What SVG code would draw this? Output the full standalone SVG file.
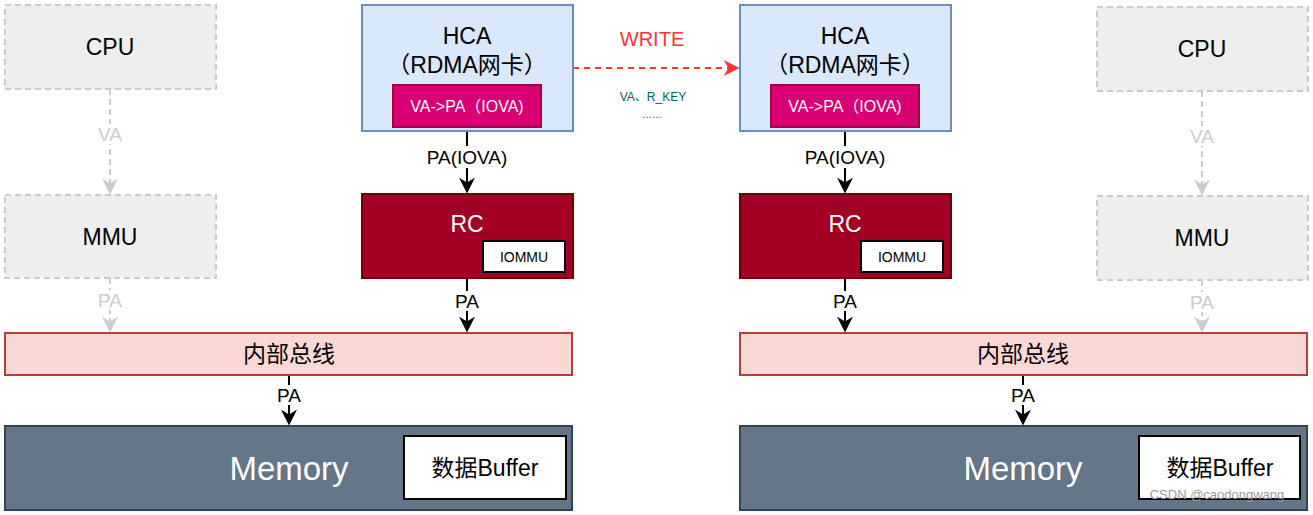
<svg xmlns="http://www.w3.org/2000/svg" width="1313" height="515" viewBox="0 0 1313 515">
<style>
text{font-family:"Liberation Sans","Noto Sans CJK SC",sans-serif;text-anchor:middle;dominant-baseline:central}
.gray{fill:#eeeeee;stroke:#cccccc;stroke-width:2;stroke-dasharray:6 4}
.hca{fill:#dae8fc;stroke:#6c8ebf;stroke-width:2}
.va{fill:#d80073;stroke:#a50040;stroke-width:2}
.rc{fill:#a20025;stroke:#6f0000;stroke-width:2}
.white{fill:#ffffff;stroke:#000000;stroke-width:2}
.bus{fill:#fad9d5;stroke:#ae4132;stroke-width:2}
.mem{fill:#647687;stroke:#314354;stroke-width:2}
.c{stroke:#000;stroke-width:2;fill:none}
.cg{stroke:#cccccc;stroke-width:2;fill:none;stroke-dasharray:6 4}
.lbl{font-size:19px;fill:#000}
.lg{font-size:19px;fill:#cccccc}
</style>
<defs>
<marker id="ab" viewBox="0 0 10 10" refX="9" refY="5" markerWidth="16" markerHeight="16" markerUnits="userSpaceOnUse" orient="auto"><path d="M0,0 L10,5 L0,10 L3,5z" fill="#000"/></marker>
<marker id="ag" viewBox="0 0 10 10" refX="9" refY="5" markerWidth="16" markerHeight="16" markerUnits="userSpaceOnUse" orient="auto"><path d="M0,0 L10,5 L0,10 L3,5z" fill="#cccccc"/></marker>
<marker id="ar" viewBox="0 0 10 10" refX="9" refY="5" markerWidth="16" markerHeight="16" markerUnits="userSpaceOnUse" orient="auto"><path d="M0,0 L10,5 L0,10 L3,5z" fill="#ff3333"/></marker>
</defs>
<g id="connectors">
<line class="cg" x1="110" y1="89" x2="110" y2="193" marker-end="url(#ag)"/>
<line class="cg" x1="110" y1="278" x2="110" y2="331" marker-end="url(#ag)"/>
<line class="c" x1="467" y1="131" x2="467" y2="192" marker-end="url(#ab)"/>
<line class="c" x1="467" y1="278" x2="467" y2="331" marker-end="url(#ab)"/>
<line class="c" x1="289" y1="375" x2="289" y2="424" marker-end="url(#ab)"/>
<line x1="573" y1="68" x2="738" y2="68" stroke="#ff3333" stroke-width="2" stroke-dasharray="6 5" marker-end="url(#ar)"/>
<line class="c" x1="845" y1="131" x2="845" y2="192" marker-end="url(#ab)"/>
<line class="c" x1="845" y1="278" x2="845" y2="331" marker-end="url(#ab)"/>
<line class="c" x1="1023" y1="375" x2="1023" y2="424" marker-end="url(#ab)"/>
<line class="cg" x1="1202" y1="91" x2="1202" y2="194" marker-end="url(#ag)"/>
<line class="cg" x1="1202" y1="280" x2="1202" y2="331" marker-end="url(#ag)"/>
<rect x="95" y="124" width="30" height="20" fill="#fff"/>
<text class="lg" x="110" y="134">VA</text>
<rect x="95" y="290" width="30" height="20" fill="#fff"/>
<text class="lg" x="110" y="300">PA</text>
<rect x="1187" y="126" width="30" height="20" fill="#fff"/>
<text class="lg" x="1202" y="136">VA</text>
<rect x="1187" y="292" width="30" height="20" fill="#fff"/>
<text class="lg" x="1202" y="302">PA</text>
<rect x="418" y="146" width="99" height="22" fill="#fff"/>
<text class="lbl" x="467" y="157">PA(IOVA)</text>
<rect x="796" y="146" width="99" height="22" fill="#fff"/>
<text class="lbl" x="845" y="157">PA(IOVA)</text>
<rect x="452" y="291" width="30" height="20" fill="#fff"/>
<text class="lbl" x="467" y="301">PA</text>
<rect x="830" y="291" width="30" height="20" fill="#fff"/>
<text class="lbl" x="845" y="301">PA</text>
<rect x="274" y="385" width="30" height="20" fill="#fff"/>
<text class="lbl" x="289" y="395">PA</text>
<rect x="1008" y="385" width="30" height="20" fill="#fff"/>
<text class="lbl" x="1023" y="395">PA</text>
<text x="652" y="39" font-size="20" fill="#ff3333">WRITE</text>
<text x="653" y="97" font-size="12" fill="#006666">VA、R_KEY</text>
<text x="652" y="114" font-size="10" fill="#006666">……</text>
</g>
<g id="cpu-l"><rect class="gray" x="5" y="5" width="211" height="84"/><text x="110" y="47" font-size="23">CPU</text></g>
<g id="mmu-l"><rect class="gray" x="5" y="195" width="211" height="83"/><text x="110" y="237" font-size="23">MMU</text></g>
<g id="hca-l"><rect class="hca" x="362" y="5" width="211" height="126"/><text x="467" y="36" font-size="23">HCA</text><text x="467" y="65" font-size="23">（RDMA网卡）</text>
<rect class="va" x="393" y="85" width="148" height="42"/><text x="467" y="106" font-size="16" fill="#fff">VA-&gt;PA（IOVA)</text></g>
<g id="rc-l"><rect class="rc" x="362" y="194" width="211" height="84"/><text x="467" y="224" font-size="23" fill="#fff">RC</text>
<rect class="white" x="483" y="241" width="82" height="31"/><text x="524" y="257" font-size="14">IOMMU</text></g>
<g id="bus-l"><rect class="bus" x="5" y="333" width="567" height="42"/><text x="289" y="354" font-size="23">内部总线</text></g>
<g id="mem-l"><rect class="mem" x="5" y="426" width="567" height="84"/><text x="289" y="468" font-size="33" fill="#fff">Memory</text>
<rect class="white" x="404" y="436" width="162" height="63"/><text x="485" y="468" font-size="23">数据Buffer</text></g>
<g id="hca-r"><rect class="hca" x="740" y="5" width="211" height="126"/><text x="845" y="36" font-size="23">HCA</text><text x="845" y="65" font-size="23">（RDMA网卡）</text>
<rect class="va" x="771" y="85" width="148" height="42"/><text x="845" y="106" font-size="16" fill="#fff">VA-&gt;PA（IOVA)</text></g>
<g id="rc-r"><rect class="rc" x="740" y="194" width="211" height="84"/><text x="845" y="224" font-size="23" fill="#fff">RC</text>
<rect class="white" x="861" y="241" width="82" height="31"/><text x="902" y="257" font-size="14">IOMMU</text></g>
<g id="cpu-r"><rect class="gray" x="1097" y="7" width="211" height="84"/><text x="1202" y="49" font-size="23">CPU</text></g>
<g id="mmu-r"><rect class="gray" x="1097" y="196" width="211" height="84"/><text x="1202" y="238" font-size="23">MMU</text></g>
<g id="bus-r"><rect class="bus" x="740" y="333" width="567" height="42"/><text x="1023" y="354" font-size="23">内部总线</text></g>
<g id="mem-r"><rect class="mem" x="740" y="426" width="567" height="84"/><text x="1023" y="468" font-size="33" fill="#fff">Memory</text>
<rect class="white" x="1139" y="436" width="161" height="63"/><text x="1220" y="468" font-size="23">数据Buffer</text></g>
<text x="1217" y="494" font-size="13" fill="#999999">CSDN @caodongwang</text>
</svg>
